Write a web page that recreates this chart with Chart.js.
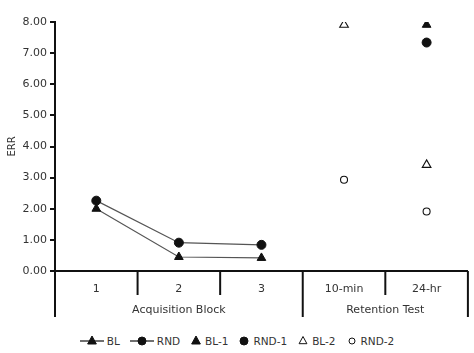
<!DOCTYPE html>
<html>
<head>
<meta charset="utf-8">
<script src="https://cdn.jsdelivr.net/npm/chart.js@4.4.1/dist/chart.umd.min.js"></script>
<style>
  html, body { margin: 0; padding: 0; background: #fff; }
  #wrap { position: relative; width: 474px; height: 353px; }
  #legend { position: absolute; left: 0; top: 335px; width: 474px; text-align: center;
            font: 10.5px "DejaVu Sans", Verdana, sans-serif; color: #333; white-space: nowrap; }
  #legend span.item { display: inline-block; margin: 0 5px; }
  #legend svg { vertical-align: -2px; margin-right: 3px; }
</style>
</head>
<body>
<div id="wrap">
  <canvas id="c" width="474" height="330"></canvas>
  <div id="legend"></div>
</div>
<script>
const categories = ['1', '2', '3', '10-min', '24-hr'];
const groupNames = ['Acquisition Block', 'Retention Test'];
const groupSpans = [3, 2];

const blValues   = [2.00, 0.45, 0.42, null, null];
const rndValues  = [2.26, 0.91, 0.84, null, null];
const bl1Values  = [null, null, null, null, 7.91];
const rnd1Values = [null, null, null, null, 7.34];
const bl2Values  = [null, null, null, 7.91, 3.41];
const rnd2Values = [null, null, null, 2.93, 1.91];

const yTicks = [0, 1, 2, 3, 4, 5, 6, 7, 8];

const ink = '#111';
const lineInk = '#555';
const fontFam = '"DejaVu Sans", Verdana, sans-serif';

function ds(label, data, style, fill, line, r) {
    return {
        label, data,
        showLine: line,
        spanGaps: false,
        borderColor: lineInk,
        borderWidth: 1.2,
        pointStyle: style,
        pointRadius: r,
        pointHoverRadius: r,
        pointBackgroundColor: fill ? ink : '#fff',
        pointBorderColor: ink,
        pointBorderWidth: fill ? 1 : 1.1,
        _fill: fill, _line: line
    };
}

const datasets = [
    ds('BL', blValues, 'triangle', true, true, 5),
    ds('RND', rndValues, 'circle', true, true, 4.5),
    ds('BL-1', bl1Values, 'triangle', true, false, 5),
    ds('RND-1', rnd1Values, 'circle', true, false, 4.5),
    ds('BL-2', bl2Values, 'triangle', false, false, 5),
    ds('RND-2', rnd2Values, 'circle', false, false, 3.5)
];

// group dividers and labels under the category axis
const groupAxis = {
    id: 'groupAxis',
    afterDraw(chart) {
        const ctx = chart.ctx, x = chart.scales.x, y = chart.scales.y;
        const half = (x.getPixelForValue(1) - x.getPixelForValue(0)) / 2;
        const bottom = y.bottom, full = bottom + 46, short = bottom + 24;
        ctx.save();
        ctx.strokeStyle = ink;
        ctx.lineWidth = 2;
        ctx.beginPath();
        ctx.moveTo(x.left, bottom);
        ctx.lineTo(x.left, full);
        ctx.stroke();
        let idx = 0;
        const ends = [];
        groupSpans.forEach(n => { idx += n; ends.push(idx - 1); });
        categories.forEach((c, i) => {
            const bx = x.getPixelForValue(i) + half;
            ctx.beginPath();
            ctx.moveTo(bx, bottom);
            ctx.lineTo(bx, ends.includes(i) ? full : short);
            ctx.stroke();
        });
        ctx.fillStyle = '#333';
        ctx.font = '11px ' + fontFam;
        ctx.textAlign = 'center';
        ctx.textBaseline = 'middle';
        let start = 0;
        groupNames.forEach((g, k) => {
            const a = x.getPixelForValue(start) - half;
            const b = x.getPixelForValue(start + groupSpans[k] - 1) + half;
            ctx.fillText(g, (a + b) / 2, bottom + 39);
            start += groupSpans[k];
        });
        ctx.restore();
    }
};

const chart = new Chart(document.getElementById('c'), {
    type: 'line',
    data: { labels: categories, datasets },
    plugins: [groupAxis],
    options: {
        responsive: false,
        animation: false,
        layout: { padding: { top: 22, right: 2, left: 4, bottom: 12 } },
        plugins: { legend: { display: false }, tooltip: { enabled: false } },
        scales: {
            x: {
                offset: true,
                grid: { display: false },
                border: { color: ink, width: 2 },
                ticks: { color: '#333', padding: 4, font: { family: fontFam, size: 11 } },
                afterFit(s) { s.height = 47; }
            },
            y: {
                min: 0, max: 8,
                afterBuildTicks(s) { s.ticks = yTicks.map(v => ({ value: v })); },
                grid: { drawOnChartArea: false, tickLength: 5, color: ink, lineWidth: 2 },
                border: { color: ink, width: 2 },
                ticks: {
                    color: '#333', padding: 3,
                    font: { family: fontFam, size: 11 },
                    callback: v => Number(v).toFixed(2)
                },
                title: { display: true, text: 'ERR', color: '#333', padding: 2,
                         font: { family: fontFam, size: 10 } },
                afterFit(s) { s.width = 51; }
            }
        }
    }
});

// legend
function symbol(d) {
    const w = d._line ? 24 : 12, cx = w / 2, cy = 6;
    const fill = d._fill ? ink : '#fff';
    let s = `<svg width="${w}" height="12">`;
    if (d._line) s += `<line x1="0" y1="${cy}" x2="${w}" y2="${cy}" stroke="${ink}" stroke-width="1.2"/>`;
    if (d.pointStyle === 'triangle') {
        const r = d._fill ? 5 : 4.5;
        s += `<polygon points="${cx},${cy - r} ${cx + r * 0.87},${cy + r * 0.6} ${cx - r * 0.87},${cy + r * 0.6}" fill="${fill}" stroke="${ink}" stroke-width="1"/>`;
    } else {
        const r = d._fill ? 4 : 3;
        s += `<circle cx="${cx}" cy="${cy}" r="${r}" fill="${fill}" stroke="${ink}" stroke-width="1"/>`;
    }
    return s + '</svg>';
}
document.getElementById('legend').innerHTML = chart.data.datasets
    .map(d => `<span class="item">${symbol(d)}${d.label}</span>`).join('');
</script>
</body>
</html>
